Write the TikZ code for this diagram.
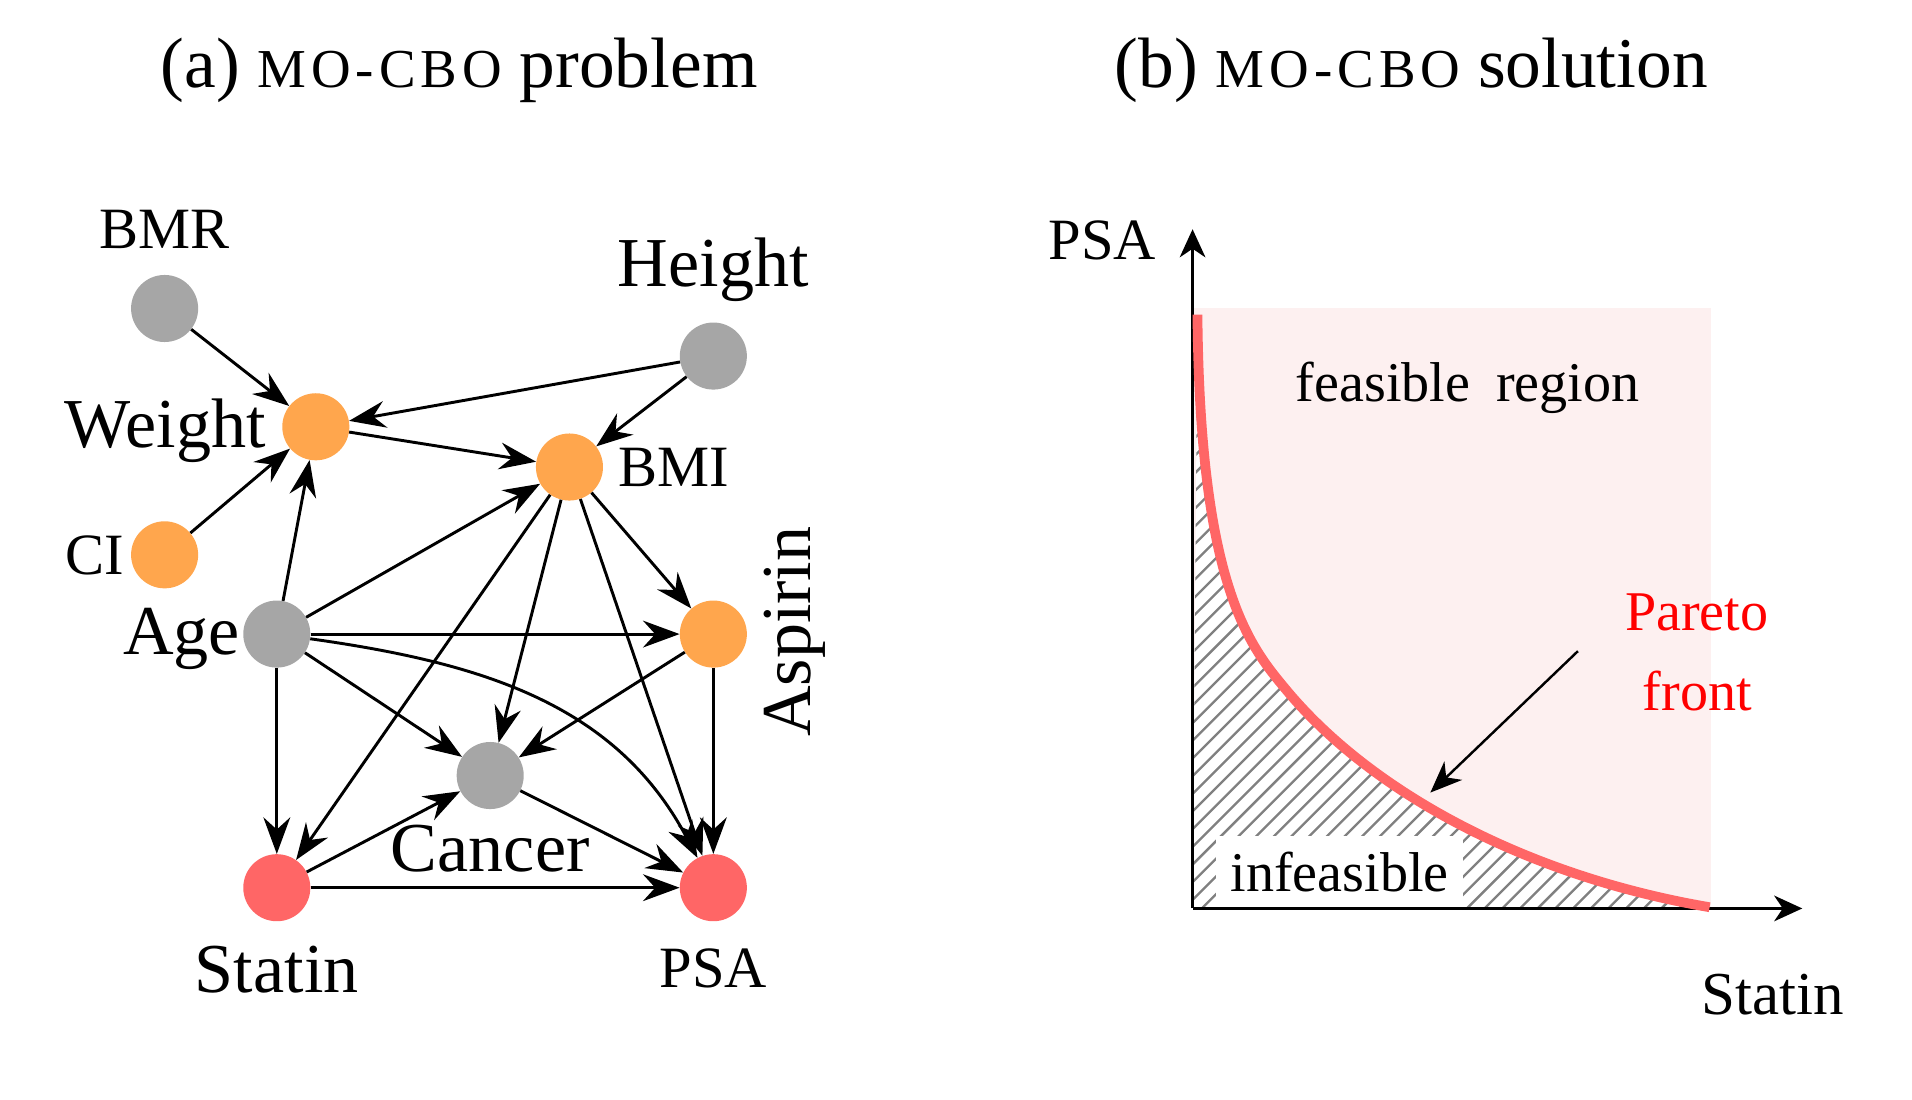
\documentclass[tikz,border=0pt]{standalone}
\usepackage{fontspec}
\setmainfont{Liberation Serif}
\usetikzlibrary{arrows.meta}

\definecolor{nodegray}{RGB}{166,166,166}
\definecolor{nodeorange}{RGB}{255,166,77}
\definecolor{nodered}{RGB}{255,102,102}
\definecolor{feasiblepink}{RGB}{253,240,240}

\newcommand\scaps[1]{{\fontsize{45}{47}\selectfont\addfontfeatures{LetterSpace=9}#1}}

\tikzset{
    var/.style={circle, minimum size=55pt, inner sep=0pt},
    titletext/.style={font=\fontsize{58.5}{60}\selectfont, inner sep=0pt, anchor=base},
    bigtext/.style={font=\fontsize{57.5}{60}\selectfont, inner sep=0pt, anchor=base},
    smalltext/.style={font=\fontsize{48}{50}\selectfont, inner sep=0pt, anchor=base},
    plottext/.style={font=\fontsize{46}{48}\selectfont, inner sep=0pt, anchor=base},
    causal/.style={line width=2.4pt, arrows={-Stealth[length=30pt, width=22pt, inset=10pt]}},
    plotaxis/.style={line width=2.4pt, arrows={-Stealth[length=23pt, width=21pt, inset=7pt]}},
    annot/.style={line width=2pt, arrows={-Stealth[length=26pt, width=21pt, inset=8pt]}},
    hatchline/.style={line width=1.9pt, black!50},
    pareto/.style={line width=8pt, nodered},
}

\begin{document}
\begin{tikzpicture}[x=1pt, y=1pt]
    \useasboundingbox (0,0) rectangle (1568,902);
    % Titles:
    \node[titletext] (titlea) at (376.5,830){(a) \scaps{MO-CBO} problem};
    \node[titletext] (titleb) at (1157.5,830){(b) \scaps{MO-CBO} solution};

    % Causal graph, variables:
    \node[var, fill=nodegray] (bmr) at (135,649){};
    \node[var, fill=nodegray] (height) at (585,610){};
    \node[var, fill=nodeorange] (weight) at (259,552){};
    \node[var, fill=nodeorange] (bmi) at (467,519){};
    \node[var, fill=nodeorange] (ci) at (135,447){};
    \node[var, fill=nodegray] (age) at (227,382){};
    \node[var, fill=nodeorange] (aspirin) at (585,382){};
    \node[var, fill=nodegray] (cancer) at (402,266){};
    \node[var, fill=nodered] (statin) at (227,174){};
    \node[var, fill=nodered] (psa) at (585,174){};

    % Causal graph, labels:
    \node[smalltext] (bmrlabel) at (135,698){BMR};
    \node[bigtext] (heightlabel) at (585,667){Height};
    \node[bigtext, anchor=base east] (weightlabel) at (218,535){Weight};
    \node[smalltext, anchor=base west] (bmilabel) at (507,503){BMI};
    \node[smalltext, anchor=base east] (cilabel) at (102,431){CI};
    \node[bigtext, anchor=base east] (agelabel) at (197,365){Age};
    \node[bigtext, rotate=90] (aspirinlabel) at (665,384){Aspirin};
    \node[bigtext] (cancerlabel) at (402,187){Cancer};
    \node[bigtext] (statinlabel) at (227,88){Statin};
    \node[smalltext] (psalabel) at (585,92){PSA};

    % Causal graph, edges:
    \draw[causal] (bmr) -- (weight);
    \draw[causal] (height) -- (weight);
    \draw[causal] (height) -- (bmi);
    \draw[causal] (weight) -- (bmi);
    \draw[causal] (ci) -- (weight);
    \draw[causal] (age) -- (weight);
    \draw[causal] (age) -- (bmi);
    \draw[causal] (age) -- (aspirin);
    \draw[causal] (age) -- (cancer);
    \draw[causal] (age) -- (statin);
    \draw[causal] (age) to[out=-8, in=118] (psa);
    \draw[causal] (bmi) -- (statin);
    \draw[causal] (bmi) -- (cancer);
    \draw[causal] (bmi) -- (psa);
    \draw[causal] (bmi) -- (aspirin);
    \draw[causal] (aspirin) -- (cancer);
    \draw[causal] (aspirin) -- (psa);
    \draw[causal] (statin) -- (cancer);
    \draw[causal] (statin) -- (psa);
    \draw[causal] (cancer) -- (psa);

    % Objective space:
    \fill[feasiblepink] (978,157) rectangle (1403,649);
    \fill[white] (978,157) -- (982,644) .. controls (984,420) and (1025,372) .. (1055,336)
        .. controls (1125,252) and (1252,183.5) .. (1402,158) -- (1403,157) -- cycle;
    \begin{scope}
        \clip (978,157) -- (982,644) .. controls (984,420) and (1025,372) .. (1055,336)
            .. controls (1125,252) and (1252,183.5) .. (1402,158) -- (1403,157) -- cycle;
        \foreach \i in {0,...,70}
            \draw[hatchline] ({478+\i*14.5},157) -- ++(560,560);
    \end{scope}
    \node[plottext, fill=white, inner xsep=12pt, inner ysep=13pt] (infeasible) at (1098.5,171){infeasible};

    % Axes:
    \coordinate (origin) at (978,157);
    \coordinate (ytip) at (978,714);
    \coordinate (xtip) at (1478,157);
    \draw[plotaxis] (origin) -- (ytip);
    \draw[plotaxis] (origin) -- (xtip);
    \draw[pareto] (982,644) .. controls (984,420) and (1025,372) .. (1055,336)
        .. controls (1125,252) and (1252,183.5) .. (1402,158);

    \node[smalltext] (psaaxis) at (904,689){PSA};
    \node[font=\fontsize{50}{52}\selectfont, inner sep=0pt, anchor=base] (statinaxis) at (1454,70){Statin};
    \node[plottext] (feasible) at (1203.5,573){feasible\hspace{0.46em}region};
    \node[plottext, text=red] (paretolabel) at (1391.5,385){Pareto};
    \node[plottext, text=red] (frontlabel) at (1392,319){front};
    \coordinate (fronttail) at (1294,368);
    \coordinate (fronthead) at (1173,252);
    \draw[annot] (fronttail) -- (fronthead);
\end{tikzpicture}
\end{document}
